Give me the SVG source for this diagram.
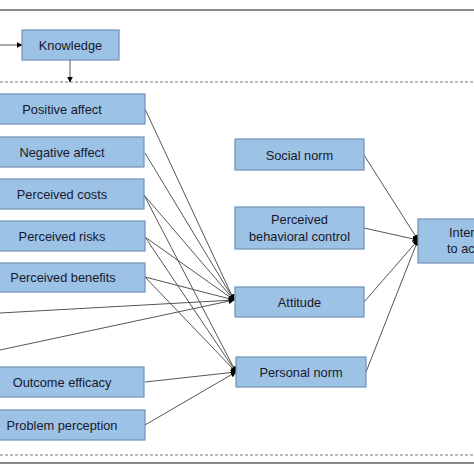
<svg xmlns="http://www.w3.org/2000/svg" width="474" height="474" viewBox="0 0 474 474">
<defs>
<marker id="ah" viewBox="0 0 10 10" refX="9" refY="5" markerWidth="6" markerHeight="6" orient="auto" markerUnits="userSpaceOnUse">
<path d="M0,0 L10,5 L0,10 z" fill="#000"/>
</marker>
</defs>
<style>
.box{fill:#9cc2e5;stroke:#7090b8;stroke-width:1.2}
.t{font-family:"Liberation Sans",Arial,sans-serif;font-size:12.8px;fill:#18182c;text-anchor:middle}
.ts{font-family:"Liberation Sans",Arial,sans-serif;font-size:12.8px;fill:#18182c}
.c{stroke:#555;stroke-width:1;fill:none;marker-end:url(#ah)}
.frame{stroke:#8a8a8a;stroke-width:2}
.dash{stroke:#777;stroke-width:1;stroke-dasharray:3,2}
</style>
<rect width="474" height="474" fill="#fff"/>
<line class="frame" x1="0" y1="10" x2="474" y2="10"/>
<line class="frame" x1="0" y1="463" x2="474" y2="463"/>
<line class="dash" x1="0" y1="82" x2="474" y2="82"/>
<line class="dash" x1="0" y1="455" x2="474" y2="455"/>
<g id="connectors">
<line class="c" x1="0" y1="45" x2="22" y2="45"/>
<line class="c" x1="70" y1="60" x2="70" y2="82"/>
<line class="c" x1="145" y1="109" x2="234" y2="300"/>
<line class="c" x1="145" y1="153" x2="234" y2="300"/>
<line class="c" x1="144" y1="195" x2="234" y2="300"/>
<line class="c" x1="144" y1="195" x2="236" y2="372"/>
<line class="c" x1="145" y1="237" x2="234" y2="300"/>
<line class="c" x1="145" y1="237" x2="236" y2="372"/>
<line class="c" x1="145" y1="277" x2="234" y2="300"/>
<line class="c" x1="145" y1="277" x2="236" y2="372"/>
<line class="c" x1="0" y1="313" x2="234" y2="300"/>
<line class="c" x1="0" y1="350" x2="234" y2="300"/>
<line class="c" x1="145" y1="382" x2="236" y2="372"/>
<line class="c" x1="145" y1="425" x2="236" y2="372"/>
<line class="c" x1="364" y1="155" x2="418" y2="240"/>
<line class="c" x1="364" y1="228" x2="418" y2="240"/>
<line class="c" x1="364" y1="302" x2="418" y2="240"/>
<line class="c" x1="366" y1="372" x2="418" y2="240"/>
</g>
<g id="knowledge"><rect class="box" x="22" y="30" width="97" height="30"/><text class="t" x="70.5" y="50">Knowledge</text></g>
<g id="positive-affect"><rect class="box" x="-21" y="94" width="166" height="30"/><text class="t" x="62" y="113.5">Positive affect</text></g>
<g id="negative-affect"><rect class="box" x="-21" y="137" width="165" height="30"/><text class="t" x="62" y="156.5">Negative affect</text></g>
<g id="perceived-costs"><rect class="box" x="-21" y="179" width="165" height="30"/><text class="t" x="62" y="198.5">Perceived costs</text></g>
<g id="perceived-risks"><rect class="box" x="-21" y="221" width="166" height="30"/><text class="t" x="62" y="240.5">Perceived risks</text></g>
<g id="perceived-benefits"><rect class="box" x="-21" y="263" width="166" height="29"/><text class="t" x="63" y="281.5">Perceived benefits</text></g>
<g id="outcome-efficacy"><rect class="box" x="-21" y="367" width="165" height="30"/><text class="t" x="62" y="386.5">Outcome efficacy</text></g>
<g id="problem-perception"><rect class="box" x="-21" y="410" width="166" height="30"/><text class="t" x="62" y="429.5">Problem perception</text></g>
<g id="social-norm"><rect class="box" x="235" y="139" width="129" height="31"/><text class="t" x="299.5" y="159.5">Social norm</text></g>
<g id="perceived-behavioral-control"><rect class="box" x="235" y="207" width="129" height="42"/><text class="t" x="299.5" y="224">Perceived</text><text class="t" x="299.5" y="240.5">behavioral control</text></g>
<g id="attitude"><rect class="box" x="235" y="287" width="129" height="30"/><text class="t" x="299.5" y="306.5">Attitude</text></g>
<g id="personal-norm"><rect class="box" x="236" y="357" width="130" height="30"/><text class="t" x="301" y="376.5">Personal norm</text></g>
<g id="intention"><rect class="box" x="418" y="219" width="70" height="44"/><text class="ts" x="449" y="237">Intention</text><text class="ts" x="447" y="253">to act</text></g>
</svg>
